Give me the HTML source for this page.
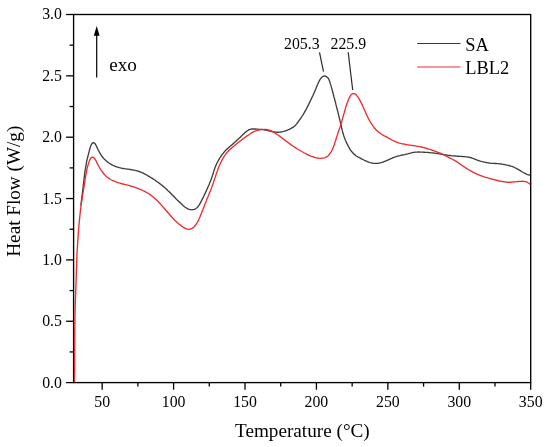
<!DOCTYPE html>
<html><head><meta charset="utf-8"><title>DSC</title>
<style>
html,body{margin:0;padding:0;background:#fff;}
body{width:550px;height:447px;overflow:hidden;}
svg{display:block;}
text{font-family:"Liberation Serif","Times New Roman",serif;fill:#000;}
</style></head><body>
<svg width="550" height="447" viewBox="0 0 550 447">
<rect x="0" y="0" width="550" height="447" fill="#fff"/>
<rect x="73.60" y="14.50" width="457.10" height="368.10" fill="none" stroke="#000" stroke-width="1.35"/>
<g stroke="#000" stroke-width="1.3"><line x1="66.10" y1="382.60" x2="73.60" y2="382.60"/><line x1="69.60" y1="351.93" x2="73.60" y2="351.93"/><line x1="66.10" y1="321.25" x2="73.60" y2="321.25"/><line x1="69.60" y1="290.58" x2="73.60" y2="290.58"/><line x1="66.10" y1="259.90" x2="73.60" y2="259.90"/><line x1="69.60" y1="229.23" x2="73.60" y2="229.23"/><line x1="66.10" y1="198.55" x2="73.60" y2="198.55"/><line x1="69.60" y1="167.88" x2="73.60" y2="167.88"/><line x1="66.10" y1="137.20" x2="73.60" y2="137.20"/><line x1="69.60" y1="106.53" x2="73.60" y2="106.53"/><line x1="66.10" y1="75.85" x2="73.60" y2="75.85"/><line x1="69.60" y1="45.18" x2="73.60" y2="45.18"/><line x1="66.10" y1="14.50" x2="73.60" y2="14.50"/><line x1="102.17" y1="382.60" x2="102.17" y2="389.70"/><line x1="137.88" y1="382.60" x2="137.88" y2="386.60"/><line x1="173.59" y1="382.60" x2="173.59" y2="389.70"/><line x1="209.30" y1="382.60" x2="209.30" y2="386.60"/><line x1="245.01" y1="382.60" x2="245.01" y2="389.70"/><line x1="280.72" y1="382.60" x2="280.72" y2="386.60"/><line x1="316.43" y1="382.60" x2="316.43" y2="389.70"/><line x1="352.15" y1="382.60" x2="352.15" y2="386.60"/><line x1="387.86" y1="382.60" x2="387.86" y2="389.70"/><line x1="423.57" y1="382.60" x2="423.57" y2="386.60"/><line x1="459.28" y1="382.60" x2="459.28" y2="389.70"/><line x1="494.99" y1="382.60" x2="494.99" y2="386.60"/><line x1="530.70" y1="382.60" x2="530.70" y2="389.70"/></g>
<path d="M80.9 205.4L81.0 204.8 81.1 204.0 81.2 203.0 81.3 202.0 81.4 201.0 81.5 200.0 81.7 199.1 81.8 198.1 81.9 197.1 82.0 196.1 82.1 195.1 82.3 194.1 82.4 193.1 82.5 192.1 82.6 191.1 82.7 190.1 82.9 189.1 83.0 188.1 83.1 187.1 83.2 186.1 83.3 185.2 83.4 184.2 83.5 183.2 83.7 182.2 83.8 181.2 83.9 180.2 84.0 179.2 84.1 178.2 84.3 177.2 84.4 176.2 84.5 175.2 84.6 174.2 84.8 173.2 84.9 172.2 85.0 171.3 85.2 170.3 85.3 169.3 85.5 168.3 85.6 167.3 85.8 166.3 86.0 165.3 86.2 164.3 86.3 163.4 86.5 162.4 86.7 161.4 86.9 160.4 87.1 159.4 87.4 158.5 87.6 157.5 87.8 156.5 88.1 155.6 88.3 154.6 88.6 153.6 88.8 152.7 89.1 151.7 89.3 150.7 89.6 149.7 89.8 148.8 90.1 147.8 90.4 146.9 90.7 145.9 91.1 145.0 91.6 144.2 92.1 143.4 92.8 142.9 93.5 142.7 94.3 143.0 94.9 143.5 95.5 144.3 95.9 145.1 96.4 146.0 96.8 146.9 97.2 147.8 97.6 148.7 98.0 149.6 98.5 150.5 99.0 151.4 99.5 152.3 100.0 153.1 100.5 154.0 101.0 154.9 101.5 155.7 102.1 156.5 102.7 157.3 103.4 158.1 104.0 158.8 104.8 159.5 105.5 160.2 106.2 160.8 107.0 161.5 107.8 162.1 108.6 162.7 109.4 163.3 110.2 163.8 111.1 164.3 112.0 164.8 112.8 165.3 113.8 165.7 114.7 166.1 115.6 166.5 116.5 166.8 117.5 167.1 118.5 167.4 119.4 167.7 120.4 167.9 121.3 168.2 122.3 168.4 123.3 168.5 124.3 168.7 125.3 168.8 126.3 168.9 127.3 169.1 128.3 169.2 129.3 169.4 130.2 169.5 131.2 169.6 132.2 169.8 133.2 170.0 134.2 170.1 135.2 170.4 136.1 170.6 137.1 170.9 138.1 171.2 139.0 171.5 139.9 171.8 140.9 172.2 141.8 172.5 142.7 172.9 143.6 173.4 144.5 173.8 145.4 174.3 146.3 174.7 147.1 175.3 148.0 175.8 148.9 176.3 149.7 176.8 150.6 177.3 151.4 177.9 152.3 178.4 153.1 178.9 153.9 179.5 154.8 180.0 155.6 180.6 156.4 181.2 157.2 181.7 158.0 182.3 158.8 182.9 159.6 183.5 160.4 184.1 161.2 184.8 162.0 185.4 162.8 186.0 163.5 186.7 164.3 187.3 165.1 188.0 165.8 188.6 166.6 189.3 167.3 190.0 168.0 190.7 168.7 191.3 169.4 192.0 170.2 192.8 170.9 193.5 171.6 194.2 172.3 194.9 173.0 195.6 173.7 196.3 174.4 197.0 175.1 197.7 175.8 198.5 176.5 199.2 177.2 199.9 177.9 200.5 178.6 201.2 179.4 201.9 180.1 202.6 180.8 203.3 181.5 204.0 182.3 204.7 183.0 205.4 183.7 206.0 184.5 206.7 185.3 207.3 186.1 207.8 187.0 208.4 187.8 208.8 188.8 209.2 189.7 209.5 190.7 209.7 191.6 209.8 192.6 209.7 193.6 209.6 194.5 209.3 195.4 208.8 196.2 208.3 197.0 207.7 197.7 207.0 198.3 206.2 198.9 205.4 199.4 204.6 199.9 203.7 200.4 202.8 200.9 201.9 201.3 201.0 201.8 200.2 202.2 199.3 202.7 198.4 203.1 197.5 203.6 196.6 204.0 195.7 204.4 194.8 204.9 193.9 205.3 193.0 205.7 192.1 206.2 191.2 206.6 190.2 207.0 189.3 207.4 188.4 207.8 187.5 208.2 186.6 208.6 185.7 209.0 184.8 209.4 183.8 209.7 182.9 210.1 182.0 210.5 181.1 210.9 180.1 211.2 179.2 211.6 178.3 211.9 177.3 212.2 176.4 212.5 175.4 212.9 174.5 213.1 173.5 213.4 172.6 213.7 171.6 214.0 170.6 214.3 169.7 214.6 168.7 214.9 167.8 215.3 166.9 215.7 165.9 216.1 165.0 216.5 164.1 216.9 163.2 217.4 162.3 217.8 161.4 218.3 160.6 218.8 159.7 219.3 158.8 219.8 158.0 220.4 157.1 220.9 156.3 221.5 155.5 222.1 154.7 222.7 153.9 223.3 153.1 224.0 152.3 224.6 151.6 225.3 150.8 226.0 150.1 226.7 149.4 227.4 148.7 228.2 148.0 228.9 147.4 229.7 146.7 230.4 146.1 231.2 145.4 232.0 144.8 232.7 144.1 233.5 143.5 234.2 142.8 235.0 142.1 235.7 141.5 236.4 140.8 237.2 140.1 237.9 139.5 238.6 138.8 239.4 138.1 240.1 137.4 240.8 136.7 241.5 136.0 242.2 135.3 242.9 134.5 243.6 133.9 244.4 133.2 245.1 132.5 245.9 131.9 246.7 131.3 247.5 130.7 248.3 130.2 249.2 129.7 250.1 129.4 251.1 129.1 252.1 129.0 253.0 129.0 254.0 129.0 255.0 129.0 256.0 129.1 257.0 129.1 258.0 129.2 259.0 129.3 260.0 129.4 261.0 129.5 262.0 129.6 263.0 129.7 264.0 129.9 265.0 130.0 266.0 130.2 266.9 130.4 267.9 130.6 268.9 130.9 269.9 131.1 270.8 131.3 271.8 131.5 272.8 131.7 273.8 131.9 274.8 132.0 275.8 132.1 276.8 132.2 277.8 132.2 278.8 132.2 279.8 132.1 280.7 132.0 281.7 131.9 282.7 131.7 283.7 131.4 284.6 131.2 285.6 130.8 286.5 130.5 287.5 130.1 288.4 129.7 289.3 129.3 290.2 128.9 291.1 128.4 291.9 127.9 292.8 127.4 293.6 126.9 294.4 126.3 295.2 125.6 295.8 124.9 296.5 124.1 297.1 123.3 297.7 122.5 298.3 121.7 298.8 120.9 299.4 120.1 300.0 119.3 300.6 118.5 301.1 117.6 301.7 116.8 302.2 116.0 302.8 115.1 303.3 114.3 303.8 113.4 304.3 112.6 304.8 111.7 305.3 110.8 305.8 109.9 306.3 109.1 306.7 108.2 307.2 107.3 307.7 106.4 308.1 105.5 308.5 104.6 309.0 103.7 309.4 102.8 309.9 101.9 310.3 101.0 310.7 100.1 311.2 99.2 311.6 98.3 312.0 97.4 312.4 96.5 312.9 95.6 313.3 94.7 313.7 93.8 314.1 92.9 314.5 91.9 314.9 91.0 315.3 90.1 315.7 89.2 316.1 88.3 316.4 87.3 316.8 86.4 317.2 85.5 317.6 84.6 318.0 83.6 318.4 82.7 318.8 81.8 319.2 80.9 319.7 80.1 320.2 79.2 320.8 78.4 321.5 77.6 322.2 77.0 322.9 76.4 323.8 76.1 324.6 76.0 325.5 76.2 326.4 76.6 327.2 77.2 327.9 77.8 328.4 78.6 328.9 79.4 329.3 80.3 329.6 81.3 329.9 82.2 330.2 83.2 330.5 84.1 330.8 85.1 331.1 86.1 331.3 87.0 331.6 88.0 331.9 88.9 332.1 89.9 332.4 90.9 332.6 91.8 332.9 92.8 333.2 93.8 333.4 94.7 333.7 95.7 333.9 96.7 334.2 97.6 334.5 98.6 334.7 99.6 335.0 100.5 335.2 101.5 335.5 102.5 335.7 103.4 335.9 104.4 336.2 105.4 336.4 106.4 336.7 107.3 336.9 108.3 337.2 109.3 337.4 110.2 337.7 111.2 337.9 112.2 338.1 113.1 338.4 114.1 338.6 115.1 338.9 116.1 339.1 117.0 339.3 118.0 339.6 119.0 339.8 119.9 340.0 120.9 340.3 121.9 340.5 122.9 340.7 123.8 340.9 124.8 341.2 125.8 341.4 126.8 341.6 127.7 341.9 128.7 342.1 129.7 342.3 130.7 342.6 131.6 342.8 132.6 343.1 133.5 343.4 134.5 343.7 135.5 344.0 136.4 344.3 137.4 344.7 138.3 345.0 139.2 345.4 140.2 345.8 141.1 346.2 142.0 346.6 142.9 347.1 143.8 347.5 144.7 348.0 145.6 348.4 146.5 348.9 147.3 349.4 148.2 349.9 149.1 350.4 149.9 351.0 150.7 351.6 151.5 352.3 152.2 353.0 153.0 353.7 153.7 354.4 154.4 355.2 155.0 355.9 155.7 356.7 156.2 357.6 156.8 358.5 157.2 359.4 157.7 360.2 158.1 361.1 158.6 362.0 159.1 362.9 159.5 363.8 160.0 364.7 160.4 365.6 160.8 366.5 161.2 367.4 161.6 368.4 162.0 369.3 162.4 370.2 162.7 371.2 162.9 372.2 163.1 373.2 163.3 374.2 163.4 375.2 163.4 376.2 163.4 377.2 163.4 378.1 163.3 379.1 163.1 380.1 162.9 381.1 162.7 382.0 162.4 383.0 162.1 383.9 161.7 384.8 161.3 385.8 161.0 386.7 160.6 387.6 160.2 388.5 159.8 389.4 159.4 390.3 158.9 391.2 158.5 392.2 158.1 393.1 157.7 394.0 157.4 394.9 157.0 395.9 156.7 396.8 156.4 397.8 156.1 398.8 155.9 399.7 155.7 400.7 155.4 401.7 155.2 402.7 155.0 403.6 154.8 404.6 154.6 405.6 154.3 406.6 154.1 407.5 153.9 408.5 153.6 409.5 153.3 410.4 153.1 411.4 152.8 412.4 152.6 413.4 152.4 414.4 152.3 415.3 152.2 416.3 152.1 417.3 152.1 418.3 152.0 419.3 152.0 420.3 152.1 421.3 152.1 422.3 152.1 423.3 152.2 424.3 152.2 425.3 152.3 426.3 152.3 427.3 152.4 428.3 152.5 429.3 152.6 430.3 152.7 431.3 152.8 432.3 152.9 433.3 153.0 434.3 153.1 435.3 153.2 436.3 153.4 437.3 153.5 438.2 153.7 439.2 153.8 440.2 154.0 441.2 154.1 442.2 154.3 443.2 154.5 444.2 154.6 445.2 154.8 446.1 154.9 447.1 155.1 448.1 155.3 449.1 155.4 450.1 155.5 451.1 155.7 452.1 155.8 453.1 155.9 454.1 155.9 455.1 156.0 456.1 156.1 457.1 156.2 458.1 156.2 459.1 156.3 460.1 156.4 461.1 156.4 462.1 156.5 463.1 156.6 464.1 156.6 465.1 156.7 466.0 156.8 467.0 156.9 468.0 157.1 469.0 157.2 470.0 157.5 470.9 157.7 471.9 158.0 472.8 158.4 473.8 158.7 474.7 159.1 475.6 159.4 476.6 159.8 477.5 160.2 478.4 160.5 479.4 160.8 480.3 161.1 481.3 161.4 482.3 161.7 483.2 161.9 484.2 162.1 485.2 162.3 486.2 162.5 487.1 162.7 488.1 162.9 489.1 163.0 490.1 163.2 491.1 163.3 492.1 163.3 493.1 163.4 494.1 163.4 495.1 163.5 496.1 163.5 497.1 163.6 498.1 163.7 499.1 163.8 500.1 163.9 501.1 164.0 502.1 164.2 503.1 164.3 504.0 164.5 505.0 164.7 506.0 164.8 507.0 165.1 508.0 165.3 508.9 165.5 509.9 165.8 510.8 166.1 511.8 166.4 512.7 166.7 513.7 167.1 514.6 167.5 515.5 168.0 516.4 168.4 517.2 168.9 518.1 169.4 518.9 169.9 519.8 170.4 520.7 170.9 521.5 171.5 522.4 172.0 523.3 172.5 524.1 172.9 525.0 173.4 525.9 173.9 526.8 174.3 527.7 174.6 528.6 174.9 529.5 175.0 530.1 175.2 530.1 175.2" fill="none" stroke="#3d3d3d" stroke-width="1.35" stroke-linejoin="round"/>
<path d="M74.5 381.9L74.5 381.3 74.5 380.4 74.5 379.5 74.5 378.5 74.5 377.5 74.5 376.5 74.5 375.5 74.5 374.5 74.5 373.5 74.6 372.5 74.6 371.5 74.6 370.5 74.6 369.5 74.6 368.5 74.6 367.5 74.6 366.5 74.6 365.5 74.6 364.5 74.6 363.5 74.6 362.5 74.6 361.5 74.6 360.5 74.6 359.5 74.6 358.5 74.6 357.5 74.6 356.5 74.6 355.5 74.6 354.5 74.6 353.5 74.6 352.5 74.7 351.5 74.7 350.5 74.7 349.5 74.7 348.5 74.7 347.5 74.7 346.5 74.7 345.5 74.7 344.5 74.7 343.5 74.7 342.5 74.7 341.5 74.7 340.5 74.7 339.5 74.7 338.5 74.7 337.5 74.7 336.5 74.8 335.5 74.8 334.5 74.8 333.5 74.8 332.5 74.8 331.5 74.8 330.5 74.8 329.5 74.8 328.5 74.8 327.5 74.8 326.5 74.8 325.5 74.8 324.5 74.9 323.5 74.9 322.5 74.9 321.5 74.9 320.5 74.9 319.5 74.9 318.5 74.9 317.5 75.0 316.5 75.0 315.5 75.0 314.5 75.0 313.5 75.0 312.5 75.1 311.5 75.1 310.5 75.1 309.5 75.1 308.5 75.2 307.5 75.2 306.5 75.2 305.5 75.3 304.5 75.3 303.5 75.3 302.5 75.4 301.5 75.4 300.5 75.4 299.5 75.5 298.5 75.5 297.5 75.6 296.5 75.6 295.5 75.6 294.5 75.7 293.5 75.7 292.5 75.7 291.5 75.8 290.5 75.8 289.5 75.8 288.5 75.9 287.5 75.9 286.5 75.9 285.5 76.0 284.5 76.0 283.5 76.0 282.5 76.1 281.5 76.1 280.5 76.1 279.5 76.2 278.5 76.2 277.5 76.2 276.5 76.3 275.5 76.3 274.5 76.3 273.5 76.4 272.5 76.4 271.5 76.4 270.5 76.4 269.5 76.5 268.5 76.5 267.5 76.5 266.5 76.6 265.5 76.6 264.5 76.6 263.5 76.7 262.5 76.7 261.5 76.8 260.5 76.8 259.5 76.8 258.5 76.9 257.5 76.9 256.5 76.9 255.5 77.0 254.5 77.0 253.5 77.1 252.5 77.1 251.5 77.2 250.5 77.2 249.5 77.3 248.5 77.4 247.5 77.4 246.5 77.5 245.6 77.6 244.6 77.6 243.6 77.7 242.6 77.8 241.6 77.8 240.6 77.9 239.6 78.0 238.6 78.1 237.6 78.1 236.6 78.2 235.6 78.3 234.6 78.3 233.6 78.4 232.6 78.5 231.6 78.6 230.6 78.6 229.6 78.7 228.6 78.8 227.6 78.9 226.6 78.9 225.6 79.0 224.6 79.1 223.6 79.2 222.6 79.3 221.6 79.4 220.6 79.5 219.6 79.6 218.6 79.7 217.6 79.8 216.6 79.9 215.6 80.0 214.7 80.1 213.7 80.2 212.7 80.3 211.7 80.4 210.7 80.5 209.7 80.7 208.7 80.8 207.7 80.9 206.7 81.1 205.7 81.2 204.7 81.3 203.7 81.5 202.7 81.6 201.8 81.8 200.8 81.9 199.8 82.1 198.8 82.2 197.8 82.4 196.8 82.5 195.8 82.7 194.8 82.9 193.9 83.0 192.9 83.2 191.9 83.4 190.9 83.5 189.9 83.7 188.9 83.8 187.9 84.0 186.9 84.1 186.0 84.3 185.0 84.4 184.0 84.6 183.0 84.7 182.0 84.9 181.0 85.0 180.0 85.2 179.0 85.3 178.0 85.5 177.1 85.7 176.1 85.8 175.1 86.0 174.1 86.2 173.1 86.4 172.1 86.6 171.2 86.8 170.2 87.0 169.2 87.2 168.2 87.4 167.3 87.7 166.3 87.9 165.3 88.2 164.4 88.5 163.4 88.8 162.5 89.2 161.5 89.5 160.6 89.9 159.7 90.4 158.8 91.0 158.1 91.6 157.5 92.4 157.2 93.2 157.4 93.9 157.8 94.5 158.5 95.1 159.3 95.6 160.2 96.1 161.0 96.5 161.9 97.0 162.8 97.5 163.7 97.9 164.6 98.4 165.5 98.8 166.3 99.3 167.2 99.8 168.1 100.3 168.9 100.9 169.8 101.4 170.6 102.0 171.4 102.6 172.2 103.2 173.0 103.8 173.8 104.5 174.6 105.2 175.3 105.9 176.0 106.6 176.7 107.4 177.3 108.2 177.9 109.0 178.4 109.9 179.0 110.7 179.5 111.6 180.0 112.5 180.4 113.4 180.9 114.3 181.2 115.2 181.6 116.2 181.9 117.1 182.3 118.1 182.6 119.0 182.9 120.0 183.2 120.9 183.5 121.9 183.8 122.9 184.0 123.8 184.2 124.8 184.5 125.8 184.7 126.8 184.9 127.7 185.2 128.7 185.4 129.7 185.7 130.6 186.0 131.6 186.3 132.5 186.5 133.5 186.8 134.4 187.2 135.4 187.5 136.3 187.8 137.3 188.2 138.2 188.5 139.1 188.9 140.1 189.3 141.0 189.6 141.9 190.0 142.8 190.5 143.7 190.9 144.6 191.4 145.5 191.8 146.4 192.3 147.2 192.8 148.1 193.3 148.9 193.8 149.8 194.4 150.6 195.0 151.4 195.6 152.2 196.2 152.9 196.8 153.7 197.5 154.5 198.1 155.2 198.8 156.0 199.4 156.7 200.1 157.4 200.8 158.1 201.5 158.8 202.2 159.5 202.9 160.2 203.7 160.8 204.4 161.5 205.2 162.2 205.9 162.8 206.7 163.5 207.4 164.1 208.2 164.8 209.0 165.4 209.7 166.1 210.5 166.7 211.2 167.4 212.0 168.0 212.8 168.7 213.5 169.3 214.3 170.0 215.0 170.7 215.8 171.3 216.5 172.0 217.3 172.7 218.0 173.4 218.7 174.1 219.4 174.8 220.2 175.5 220.9 176.2 221.5 176.9 222.2 177.7 222.9 178.4 223.6 179.2 224.2 180.0 224.8 180.8 225.4 181.5 226.1 182.4 226.6 183.2 227.2 184.0 227.7 184.9 228.2 185.8 228.6 186.7 229.0 187.7 229.2 188.6 229.3 189.6 229.3 190.5 229.0 191.5 228.7 192.3 228.2 193.1 227.6 193.9 227.0 194.6 226.3 195.2 225.5 195.8 224.7 196.4 223.9 196.9 223.1 197.4 222.2 197.9 221.3 198.3 220.4 198.7 219.5 199.2 218.6 199.6 217.7 200.0 216.8 200.3 215.9 200.7 214.9 201.1 214.0 201.5 213.1 201.9 212.1 202.2 211.2 202.6 210.3 203.0 209.4 203.3 208.4 203.7 207.5 204.1 206.6 204.4 205.6 204.8 204.7 205.2 203.8 205.5 202.8 205.9 201.9 206.3 201.0 206.6 200.1 207.0 199.1 207.4 198.2 207.8 197.3 208.1 196.4 208.5 195.4 208.9 194.5 209.3 193.6 209.6 192.6 210.0 191.7 210.4 190.8 210.8 189.9 211.1 188.9 211.5 188.0 211.8 187.1 212.2 186.1 212.5 185.2 212.9 184.2 213.2 183.3 213.5 182.4 213.8 181.4 214.1 180.5 214.5 179.5 214.8 178.6 215.1 177.6 215.4 176.7 215.7 175.7 216.0 174.8 216.3 173.8 216.6 172.9 217.0 171.9 217.3 171.0 217.6 170.0 218.0 169.1 218.3 168.1 218.7 167.2 219.1 166.3 219.5 165.4 219.9 164.5 220.3 163.6 220.7 162.7 221.2 161.8 221.6 160.9 222.1 160.0 222.6 159.1 223.1 158.2 223.6 157.4 224.1 156.5 224.6 155.7 225.2 154.9 225.8 154.0 226.4 153.3 227.0 152.5 227.7 151.8 228.4 151.0 229.1 150.3 229.8 149.6 230.6 148.9 231.3 148.3 232.1 147.6 232.8 147.0 233.6 146.3 234.4 145.7 235.1 145.1 235.9 144.4 236.7 143.8 237.4 143.2 238.2 142.5 239.0 141.9 239.8 141.3 240.6 140.7 241.4 140.1 242.2 139.5 243.0 138.9 243.8 138.3 244.6 137.7 245.4 137.1 246.2 136.5 247.0 135.9 247.8 135.4 248.7 134.8 249.5 134.2 250.3 133.7 251.2 133.1 252.0 132.7 252.9 132.2 253.8 131.7 254.7 131.3 255.6 130.9 256.6 130.6 257.5 130.3 258.5 130.0 259.5 129.8 260.5 129.7 261.4 129.5 262.4 129.4 263.4 129.4 264.4 129.4 265.4 129.4 266.4 129.5 267.4 129.6 268.4 129.8 269.3 130.1 270.3 130.4 271.2 130.9 272.0 131.3 272.9 131.8 273.8 132.3 274.6 132.8 275.5 133.4 276.3 133.9 277.1 134.5 278.0 135.0 278.8 135.6 279.6 136.2 280.4 136.8 281.2 137.4 282.0 138.0 282.8 138.6 283.6 139.2 284.4 139.8 285.2 140.4 286.0 141.0 286.8 141.6 287.6 142.2 288.4 142.8 289.2 143.4 290.0 144.0 290.8 144.6 291.6 145.1 292.5 145.7 293.3 146.3 294.1 146.8 294.9 147.4 295.8 147.9 296.6 148.5 297.5 149.0 298.3 149.5 299.2 150.0 300.0 150.5 300.9 151.0 301.8 151.5 302.7 152.0 303.5 152.5 304.4 153.0 305.3 153.5 306.2 153.9 307.1 154.4 308.0 154.8 308.9 155.3 309.8 155.7 310.7 156.1 311.6 156.4 312.6 156.7 313.5 157.0 314.5 157.3 315.5 157.6 316.4 157.8 317.4 158.0 318.4 158.2 319.4 158.3 320.4 158.3 321.4 158.3 322.4 158.2 323.3 158.1 324.3 157.9 325.2 157.6 326.1 157.1 327.0 156.6 327.8 156.0 328.5 155.4 329.1 154.6 329.8 153.8 330.3 153.0 330.9 152.2 331.4 151.3 331.8 150.4 332.3 149.5 332.7 148.6 333.1 147.7 333.5 146.8 333.8 145.9 334.2 144.9 334.5 144.0 334.8 143.0 335.1 142.1 335.4 141.1 335.7 140.2 336.0 139.2 336.3 138.2 336.6 137.3 336.9 136.3 337.2 135.4 337.5 134.4 337.8 133.5 338.1 132.5 338.5 131.6 338.8 130.6 339.1 129.7 339.4 128.7 339.8 127.8 340.1 126.9 340.4 125.9 340.7 125.0 341.0 124.0 341.3 123.0 341.6 122.1 341.9 121.1 342.1 120.2 342.4 119.2 342.7 118.2 342.9 117.3 343.2 116.3 343.5 115.3 343.7 114.4 344.0 113.4 344.3 112.5 344.5 111.5 344.8 110.5 345.1 109.6 345.4 108.6 345.6 107.6 345.9 106.7 346.2 105.7 346.6 104.8 346.9 103.8 347.2 102.9 347.6 102.0 347.9 101.0 348.3 100.1 348.7 99.2 349.1 98.3 349.5 97.4 350.0 96.5 350.5 95.6 351.1 94.8 351.7 94.2 352.5 93.7 353.3 93.6 354.2 93.7 355.1 94.1 355.9 94.6 356.6 95.3 357.2 96.1 357.8 96.8 358.4 97.7 358.9 98.5 359.4 99.4 359.9 100.3 360.3 101.2 360.8 102.1 361.2 102.9 361.7 103.8 362.1 104.7 362.6 105.6 363.0 106.5 363.4 107.5 363.8 108.4 364.2 109.3 364.6 110.2 365.0 111.1 365.4 112.0 365.8 112.9 366.2 113.9 366.7 114.8 367.1 115.7 367.5 116.6 367.9 117.5 368.4 118.4 368.9 119.3 369.3 120.1 369.8 121.0 370.3 121.9 370.8 122.7 371.4 123.6 371.9 124.4 372.5 125.2 373.0 126.1 373.6 126.9 374.2 127.7 374.9 128.4 375.5 129.2 376.2 129.9 376.9 130.6 377.7 131.3 378.4 131.9 379.2 132.5 380.0 133.1 380.9 133.7 381.7 134.2 382.5 134.8 383.4 135.3 384.3 135.8 385.2 136.2 386.0 136.7 386.9 137.2 387.8 137.7 388.7 138.1 389.6 138.6 390.4 139.1 391.3 139.6 392.2 140.0 393.1 140.5 394.0 140.9 394.9 141.4 395.8 141.8 396.7 142.1 397.7 142.5 398.6 142.8 399.6 143.1 400.5 143.3 401.5 143.6 402.5 143.8 403.5 144.0 404.4 144.2 405.4 144.4 406.4 144.6 407.4 144.8 408.4 144.9 409.4 145.1 410.4 145.2 411.3 145.3 412.3 145.5 413.3 145.6 414.3 145.7 415.3 145.9 416.3 146.1 417.3 146.3 418.3 146.4 419.2 146.6 420.2 146.8 421.2 147.0 422.2 147.2 423.1 147.5 424.1 147.7 425.1 148.0 426.0 148.2 427.0 148.5 428.0 148.8 428.9 149.1 429.9 149.4 430.8 149.7 431.8 150.0 432.7 150.3 433.7 150.7 434.6 151.0 435.5 151.4 436.5 151.7 437.4 152.1 438.3 152.4 439.3 152.8 440.2 153.2 441.1 153.6 442.0 154.0 442.9 154.4 443.8 154.9 444.7 155.3 445.6 155.8 446.5 156.2 447.4 156.7 448.3 157.1 449.2 157.6 450.1 158.1 450.9 158.5 451.8 159.0 452.7 159.5 453.6 159.9 454.5 160.4 455.3 160.9 456.2 161.4 457.0 161.9 457.9 162.5 458.7 163.0 459.6 163.6 460.4 164.2 461.2 164.7 462.0 165.3 462.8 165.9 463.6 166.4 464.5 167.0 465.3 167.6 466.1 168.1 467.0 168.7 467.8 169.2 468.7 169.7 469.5 170.2 470.4 170.7 471.3 171.2 472.1 171.7 473.0 172.2 473.9 172.6 474.8 173.1 475.7 173.5 476.6 173.9 477.5 174.3 478.5 174.7 479.4 175.1 480.3 175.5 481.3 175.8 482.2 176.1 483.1 176.4 484.1 176.8 485.1 177.1 486.0 177.4 487.0 177.6 487.9 177.9 488.9 178.2 489.8 178.5 490.8 178.8 491.8 179.0 492.7 179.3 493.7 179.5 494.7 179.8 495.6 180.0 496.6 180.3 497.6 180.5 498.5 180.8 499.5 181.0 500.5 181.2 501.5 181.4 502.5 181.6 503.4 181.7 504.4 181.9 505.4 182.0 506.4 182.1 507.4 182.2 508.4 182.2 509.4 182.3 510.4 182.2 511.4 182.2 512.4 182.1 513.4 182.0 514.4 181.9 515.4 181.8 516.4 181.7 517.4 181.6 518.4 181.5 519.4 181.4 520.4 181.3 521.4 181.3 522.4 181.2 523.4 181.3 524.3 181.4 525.3 181.6 526.3 181.8 527.2 182.2 528.0 182.7 528.8 183.2 529.5 183.7 530.1 184.2 530.2 184.2" fill="none" stroke="#f02a2a" stroke-width="1.35" stroke-linejoin="round"/>
<g font-size="15.8px"><text x="61.9" y="387.5" text-anchor="end">0.0</text><text x="61.9" y="326.1" text-anchor="end">0.5</text><text x="61.9" y="264.8" text-anchor="end">1.0</text><text x="61.9" y="203.5" text-anchor="end">1.5</text><text x="61.9" y="142.1" text-anchor="end">2.0</text><text x="61.9" y="80.8" text-anchor="end">2.5</text><text x="61.9" y="19.4" text-anchor="end">3.0</text><text x="102.2" y="406.6" text-anchor="middle">50</text><text x="173.6" y="406.6" text-anchor="middle">100</text><text x="245.0" y="406.6" text-anchor="middle">150</text><text x="316.4" y="406.6" text-anchor="middle">200</text><text x="387.9" y="406.6" text-anchor="middle">250</text><text x="459.3" y="406.6" text-anchor="middle">300</text><text x="530.7" y="406.6" text-anchor="middle">350</text>
<text x="284" y="48.6">205.3</text><text x="330.5" y="48.6">225.9</text></g>
<g stroke="#2a2a2a" stroke-width="1.2"><line x1="319.5" y1="52.4" x2="323.5" y2="71.6"/><line x1="348.2" y1="52.3" x2="352.7" y2="90"/></g>
<line x1="96.7" y1="33" x2="96.7" y2="77.4" stroke="#000" stroke-width="1.2"/>
<path d="M96.7 26L99.6 35.8L93.8 35.8Z" fill="#000"/>
<text x="109.2" y="70.8" font-size="19.2px">exo</text>
<g font-size="18.4px"><text x="465.3" y="50.6">SA</text><text x="465.3" y="73.5">LBL2</text></g>
<line x1="417.2" y1="43.5" x2="460.5" y2="43.5" stroke="#3a3a3a" stroke-width="1.2"/>
<line x1="417.2" y1="67" x2="460.5" y2="67" stroke="#f02a2a" stroke-width="1.2"/>
<g font-size="19.2px"><text x="302.4" y="436.8" text-anchor="middle">Temperature (°C)</text>
<text transform="translate(20.3,191.2) rotate(-90)" text-anchor="middle">Heat Flow (W/g)</text></g>
</svg>
</body></html>
